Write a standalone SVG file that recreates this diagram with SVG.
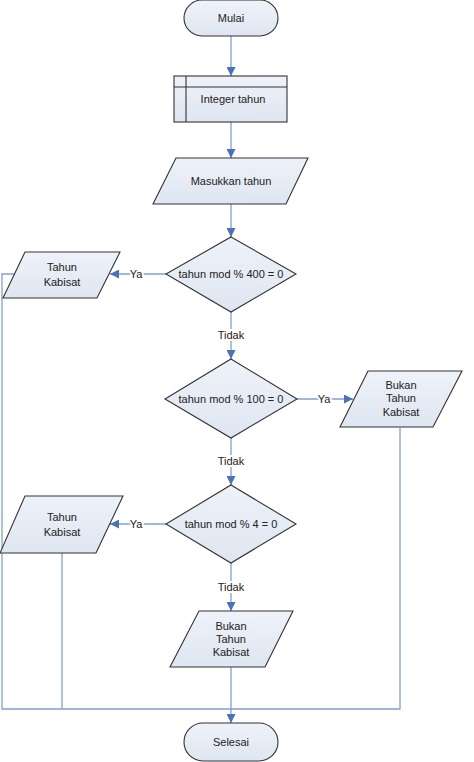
<svg xmlns="http://www.w3.org/2000/svg" width="474" height="762" viewBox="0 0 474 762">
<defs>
<linearGradient id="g" x1="0" y1="0" x2="0" y2="1"><stop offset="0" stop-color="#eef2f9"/><stop offset="1" stop-color="#dfe6f1"/></linearGradient>
<marker id="arr" viewBox="0 0 10 10" refX="10" refY="5" markerWidth="9" markerHeight="9" markerUnits="userSpaceOnUse" orient="auto"><path d="M0,0 L10,5 L0,10 z" fill="#4a72b8"/></marker>
<style>
.s{fill:url(#g);stroke:#333;stroke-width:1.1}
.t{font-family:"Liberation Sans",Arial,sans-serif;font-size:11px;fill:#222;text-anchor:middle;dominant-baseline:central}
.c{fill:none;stroke:#7fa0d6;stroke-width:1.3}
.l{font-family:"Liberation Sans",Arial,sans-serif;font-size:11px;fill:#222;text-anchor:middle;dominant-baseline:central;stroke:#fff;stroke-width:4;paint-order:stroke}
</style>
</defs>
<g id="connectors">
<path class="c" d="M231,36 V76" marker-end="url(#arr)"/>
<path class="c" d="M231,122 V158" marker-end="url(#arr)"/>
<path class="c" d="M231,204 V237" marker-end="url(#arr)"/>
<path class="c" d="M166,274 H110" marker-end="url(#arr)"/>
<path class="c" d="M231,312 V359" marker-end="url(#arr)"/>
<path class="c" d="M297,399 H353" marker-end="url(#arr)"/>
<path class="c" d="M231,438 V485" marker-end="url(#arr)"/>
<path class="c" d="M166,524 H110" marker-end="url(#arr)"/>
<path class="c" d="M231,563 V611" marker-end="url(#arr)"/>
<path class="c" d="M231,667 V723" marker-end="url(#arr)"/>
<path class="c" d="M14,274 H2 V709 H400 V428"/>
<path class="c" d="M62,553 V709"/>
<text class="l" x="136" y="274">Ya</text>
<text class="l" x="231" y="335">Tidak</text>
<text class="l" x="324" y="399">Ya</text>
<text class="l" x="231" y="461">Tidak</text>
<text class="l" x="136" y="524">Ya</text>
<text class="l" x="231" y="587">Tidak</text>
</g>
<g id="mulai"><rect class="s" x="184" y="0" width="94" height="36" rx="18"/><text class="t" x="231" y="18">Mulai</text></g>
<g id="integer"><rect class="s" x="174" y="76" width="113" height="46"/><path d="M174,87 H287 M186,76 V122" stroke="#333" stroke-width="1.1" fill="none"/><text class="t" x="233" y="99">Integer tahun</text></g>
<g id="masukkan"><polygon class="s" points="176,158 308,158 286,204 153,204"/><text class="t" x="231" y="181">Masukkan tahun</text></g>
<g id="d400"><polygon class="s" points="231,237 296,274 231,312 166,274"/><text class="t" x="231" y="274">tahun mod % 400 = 0</text></g>
<g id="tk1"><polygon class="s" points="25,252 120,252 97,298 3,298"/><text class="t" x="62" y="267">Tahun</text><text class="t" x="62" y="282">Kabisat</text></g>
<g id="d100"><polygon class="s" points="231,359 297,399 231,438 165,399"/><text class="t" x="231" y="399">tahun mod % 100 = 0</text></g>
<g id="btk1"><polygon class="s" points="368,371 462,371 433,427 340,427"/><text class="t" x="401" y="385">Bukan</text><text class="t" x="401" y="398">Tahun</text><text class="t" x="401" y="412">Kabisat</text></g>
<g id="d4"><polygon class="s" points="231,485 296,524 231,563 166,524"/><text class="t" x="231" y="524">tahun mod % 4 = 0</text></g>
<g id="tk2"><polygon class="s" points="25,496 123,496 96,553 0,553"/><text class="t" x="62" y="517">Tahun</text><text class="t" x="62" y="532">Kabisat</text></g>
<g id="btk2"><polygon class="s" points="199,611 293,611 265,667 170,667"/><text class="t" x="231" y="626">Bukan</text><text class="t" x="231" y="639">Tahun</text><text class="t" x="231" y="652">Kabisat</text></g>
<g id="selesai"><rect class="s" x="184" y="723" width="94" height="38" rx="19"/><text class="t" x="231" y="742">Selesai</text></g>
</svg>
